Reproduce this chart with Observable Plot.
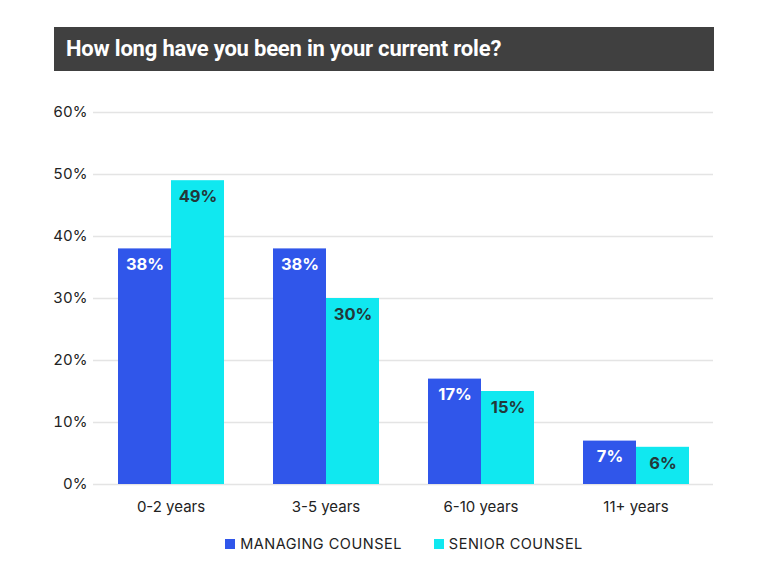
<!DOCTYPE html>
<html>
<head>
<meta charset="utf-8">
<script src="https://cdn.jsdelivr.net/npm/d3@7"></script>
<script src="https://cdn.jsdelivr.net/npm/@observablehq/plot@0.6"></script>
<style>
  body { margin: 0; background: #fff; font-family: Inter, "Open Sans", sans-serif; }
  #wrap { width: 768px; height: 576px; position: relative; }
  #title { position: absolute; left: 54px; top: 27px; width: 660px; height: 44px; background: #404040;
    color: #fff; font-family: Roboto, sans-serif; font-weight: 700; font-size: 22px; line-height: 44px;
    box-sizing: border-box; padding-left: 12px; letter-spacing: -0.2px; }
  #chart { position: absolute; left: 0; top: 71px; }
  #legend { position: absolute; top: 535px; left: 20px; width: 768px; display: flex; justify-content: center;
    gap: 32px; font-size: 14.5px; color: #222; letter-spacing: 0.5px; }
  .item { display: flex; align-items: center; gap: 5px; }
  .sw { width: 10px; height: 10px; display: inline-block; }
</style>
</head>
<body>
<div id="wrap">
  <div id="title">How long have you been in your current role?</div>
  <div id="chart"></div>
  <div id="legend"></div>
</div>
<script>
const categories = ["0-2 years", "3-5 years", "6-10 years", "11+ years"];
const seriesNames = ["MANAGING COUNSEL", "SENIOR COUNSEL"];
const managing = [38, 38, 17, 7];
const senior = [49, 30, 15, 6];
const yTicks = [0, 10, 20, 30, 40, 50, 60];
const colors = ["#3056ea", "#10e8f0"];
const labelColors = ["#ffffff", "#23383a"];

const data = [];
categories.forEach((c, i) => {
  data.push({category: c, series: seriesNames[0], value: managing[i]});
  data.push({category: c, series: seriesNames[1], value: senior[i]});
});

const chart = Plot.plot({
  width: 768,
  height: 450,
  marginLeft: 92,
  marginRight: 54,
  marginTop: 41,
  marginBottom: 37,
  style: {fontFamily: "Inter, 'Open Sans', sans-serif", fontSize: "15px", color: "#222"},
  fx: {domain: categories, paddingInner: 0, paddingOuter: 0, label: null},
  x: {domain: seriesNames, paddingInner: 0, paddingOuter: 0.46, axis: null},
  y: {domain: [0, 60], axis: null},
  color: {domain: seriesNames, range: colors},
  marks: [
    Plot.ruleY(yTicks, {stroke: "#e4e4e4", strokeWidth: 1.5}),
    Plot.barY(data, {fx: "category", x: "series", y: "value", fill: "series", inset: 0}),
    Plot.text(data, {
      fx: "category", x: "series", y: "value", dy: 16,
      text: d => d.value + "%",
      fill: d => labelColors[seriesNames.indexOf(d.series)],
      fontWeight: 700, fontSize: 16.5
    }),
    Plot.axisFx({anchor: "bottom", tickSize: 0, tickPadding: 17, fontSize: 15, label: null}),
    Plot.axisY({ticks: yTicks, tickSize: 0, tickPadding: 6, tickFormat: d => d + "%", fontSize: 15, label: null})
  ]
});
document.getElementById("chart").appendChild(chart);

const legend = document.getElementById("legend");
seriesNames.forEach((s, i) => {
  const it = document.createElement("div");
  it.className = "item";
  it.innerHTML = `<span class="sw" style="background:${colors[i]}"></span><span>${s}</span>`;
  legend.appendChild(it);
});
</script>
</body>
</html>
